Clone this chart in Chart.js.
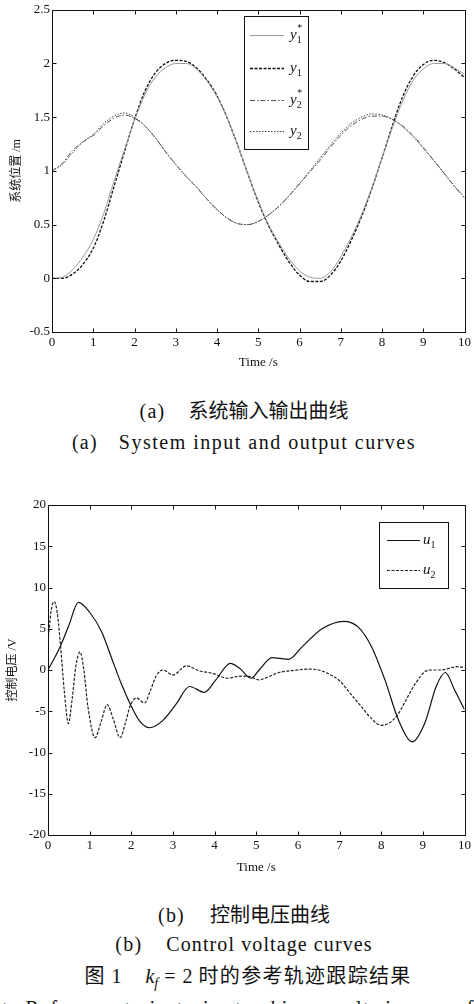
<!DOCTYPE html>
<html><head><meta charset="utf-8">
<script src="https://cdn.jsdelivr.net/npm/chart.js"></script>
<style>
html,body{margin:0;padding:0;background:#fff;width:474px;height:1004px;overflow:hidden;position:relative}
canvas{position:absolute;left:0}
.cap{position:absolute;left:0;width:488px;height:24px;line-height:24px;text-align:center;white-space:nowrap;color:#111;font-family:"Liberation Serif",serif;font-size:20px}
.zh{font-family:"Noto Sans CJK SC",sans-serif;font-size:20px}
</style></head><body>
<canvas id="ca" width="474" height="380" style="top:0"></canvas>
<canvas id="cb" width="474" height="390" style="top:490px"></canvas>

<div class="cap" style="top:398px"><span style="letter-spacing:1.2px">(a)</span><span class="zh" style="margin-left:23px">系统输入输出曲线</span></div>
<div class="cap" style="top:430px"><span style="letter-spacing:1.2px">(a)</span><span style="margin-left:21px;letter-spacing:1.5px">System input and output curves</span></div>
<div class="cap" style="top:902px"><span style="letter-spacing:1.2px">(b)</span><span class="zh" style="margin-left:25px">控制电压曲线</span></div>
<div class="cap" style="top:932px"><span style="letter-spacing:1.2px">(b)</span><span style="margin-left:24px;letter-spacing:1.1px">Control voltage curves</span></div>
<div class="cap" style="top:963px;width:496px"><span class="zh">图</span><span style="margin-left:7px">1</span><span style="margin-left:24px;font-style:italic">k</span><sub style="font-style:italic;font-size:14px;line-height:0">f</sub><span style="margin-left:6px">=</span><span style="margin-left:7px">2</span><span class="zh" style="margin-left:6px;letter-spacing:1.3px">时的参考轨迹跟踪结果</span></div>
<div class="cap" style="top:996px;left:2px;width:auto;text-align:left"><span>t</span><span style="margin-left:18px;letter-spacing:1.3px">Reference trajectories tracking results in case of <i>k</i></span></div>

<script>
// ---------- data: (a) system input / output ----------
const timeA = [0,0.25,0.5,0.75,1,1.25,1.5,1.75,2,2.25,2.5,2.75,3,3.25,3.5,3.75,4,4.25,4.5,4.75,5,5.25,5.5,5.75,6,6.25,6.5,6.75,7,7.25,7.5,7.75,8,8.25,8.5,8.75,9,9.25,9.5,9.75,10];
const y1Ref = [0,0.01,0.08,0.20,0.36,0.60,0.90,1.19,1.47,1.71,1.87,1.96,2.00,2.00,1.95,1.84,1.69,1.49,1.24,0.97,0.72,0.50,0.33,0.18,0.07,0.01,0.00,0.06,0.20,0.38,0.59,0.84,1.12,1.40,1.65,1.84,1.95,2.00,2.00,1.96,1.90];
const y1Out = [0,0.00,0.04,0.13,0.28,0.53,0.85,1.17,1.48,1.74,1.91,2.00,2.03,2.02,1.96,1.85,1.70,1.49,1.24,0.97,0.71,0.49,0.31,0.15,0.03,-0.03,-0.03,0.03,0.16,0.35,0.57,0.83,1.12,1.42,1.69,1.88,1.99,2.03,2.01,1.95,1.87];
const y2Ref = [1.00,1.07,1.19,1.27,1.33,1.42,1.49,1.52,1.49,1.42,1.31,1.18,1.06,0.95,0.85,0.74,0.64,0.56,0.51,0.50,0.53,0.59,0.67,0.77,0.88,0.99,1.10,1.22,1.33,1.42,1.48,1.51,1.51,1.48,1.42,1.33,1.22,1.10,0.98,0.86,0.75];
const y2Out = [1.00,1.06,1.17,1.27,1.34,1.44,1.51,1.54,1.50,1.42,1.31,1.18,1.06,0.95,0.85,0.74,0.64,0.56,0.51,0.50,0.53,0.59,0.67,0.77,0.88,1.00,1.12,1.24,1.35,1.44,1.50,1.53,1.52,1.48,1.41,1.32,1.21,1.10,0.98,0.86,0.75];
const legendA = [{base:'y',sub:'1',sup:'*'},{base:'y',sub:'1',sup:''},{base:'y',sub:'2',sup:'*'},{base:'y',sub:'2',sup:''}];
const xTicks = [0,1,2,3,4,5,6,7,8,9,10];
const yTicksA = [-0.5,0,0.5,1,1.5,2,2.5];

// ---------- data: (b) control voltage ----------
const u1Time = [0,0.29,0.5,0.73,1.0,1.29,1.53,1.77,2.0,2.2,2.44,2.76,3.08,3.4,3.75,4.03,4.38,4.6,4.88,5.07,5.38,5.58,5.78,6.1,6.58,7.1,7.45,7.77,8.09,8.41,8.75,9.05,9.32,9.54,9.76,10];
const u1Vals = [0,2.8,5.4,8.2,7.0,4.6,1.4,-1.8,-4.4,-6.2,-7.0,-6.1,-4.1,-2.0,-2.7,-1.2,0.8,0.2,-1.0,0.0,1.5,1.4,1.3,2.8,5.0,5.9,5.2,2.8,-1.2,-6.0,-8.7,-6.4,-2.0,-0.3,-2.4,-4.8];
const u2Time = [0,0.07,0.15,0.22,0.29,0.39,0.49,0.58,0.67,0.77,0.86,0.96,1.13,1.28,1.42,1.57,1.73,1.87,1.97,2.12,2.32,2.45,2.6,2.76,3.0,3.32,3.63,3.95,4.31,4.6,4.85,5.07,5.3,5.55,5.9,6.26,6.5,6.75,7.0,7.25,7.5,7.75,8.0,8.2,8.4,8.6,8.8,9.05,9.2,9.45,9.7,9.84,10];
const u2Vals = [3.5,7.0,8.3,7.0,3.6,-2.5,-6.5,-3.5,0.5,2.2,0.0,-4.5,-8.2,-6.2,-4.2,-6.0,-8.2,-6.2,-4.4,-3.4,-4.0,-2.6,-0.7,0.0,-0.6,0.5,-0.1,-0.4,-1.0,-0.75,-0.8,-1.2,-0.8,-0.3,-0.05,0.1,0.0,-0.5,-1.3,-2.8,-4.3,-5.8,-6.7,-6.4,-5.4,-3.6,-1.8,-0.2,0.0,0.0,0.3,0.4,0.3];
const legendB = [{base:'u',sub:'1',sup:''},{base:'u',sub:'2',sup:''}];
const yTicksB = [-20,-15,-10,-5,0,5,10,15,20];

const pts = (ts, vs) => ts.map((t, i) => ({x: t, y: vs[i]}));
const SERIF = '"Liberation Serif","Noto Sans CJK SC",serif';

// frame with inward ticks on all four sides
const framePlugin = {
  id: 'frame',
  afterDatasetsDraw(chart) {
    const {ctx, chartArea: a, scales: {x, y}} = chart;
    const L = Math.round(a.left) + 0.5, R = Math.round(a.right) + 0.5, T = Math.round(a.top) + 0.5, B = Math.round(a.bottom) + 0.5;
    ctx.save();
    ctx.strokeStyle = '#111'; ctx.lineWidth = 1; ctx.setLineDash([]);
    ctx.strokeRect(L, T, R - L, B - T);
    const k = 4;
    ctx.beginPath();
    x.ticks.forEach(t => { const p = Math.round(x.getPixelForValue(t.value)) + 0.5; ctx.moveTo(p, B); ctx.lineTo(p, B - k); ctx.moveTo(p, T); ctx.lineTo(p, T + k); });
    y.ticks.forEach(t => { const p = Math.round(y.getPixelForValue(t.value)) + 0.5; ctx.moveTo(L, p); ctx.lineTo(L + k, p); ctx.moveTo(R, p); ctx.lineTo(R - k, p); });
    ctx.stroke();
    ctx.restore();
  }
};

const legendPlugin = {
  id: 'boxLegend',
  afterDraw(chart, args, o) {
    if (!o || !o.items) return;
    const ctx = chart.ctx;
    ctx.save();
    ctx.fillStyle = '#fff'; ctx.fillRect(o.box[0], o.box[1], o.box[2], o.box[3]);
    ctx.strokeStyle = '#111'; ctx.lineWidth = 1; ctx.strokeRect(o.box[0] + 0.5, o.box[1] + 0.5, o.box[2], o.box[3]);
    o.items.forEach((it, i) => {
      const ds = chart.data.datasets[i];
      const yy = o.ys[i];
      ctx.strokeStyle = ds.borderColor; ctx.lineWidth = ds.borderWidth; ctx.setLineDash(ds.borderDash || []);
      ctx.beginPath(); ctx.moveTo(o.x0, yy + 0.5); ctx.lineTo(o.x1, yy + 0.5); ctx.stroke();
      ctx.setLineDash([]);
      ctx.fillStyle = '#111'; ctx.textBaseline = 'alphabetic'; ctx.textAlign = 'left';
      ctx.font = 'italic 15px "Liberation Serif"';
      ctx.fillText(it.base, o.tx, yy + 4);
      const w = ctx.measureText(it.base).width;
      ctx.font = '10px "Liberation Serif"';
      ctx.fillText(it.sub, o.tx + w, yy + 8);
      if (it.sup) ctx.fillText(it.sup, o.tx + w + 0.5, yy - 4);
    });
    ctx.restore();
  }
};

function makeScales(xt, yt, ymin, ymax, yw, xh, yTitle, ytPad, xtPad) {
  return {
    x: {
      type: 'linear', min: 0, max: 10,
      afterBuildTicks: s => { s.ticks = xt.map(v => ({value: v})); },
      afterFit: s => { s.height = xh; },
      grid: {display: false, drawTicks: false}, border: {display: false},
      ticks: {color: '#111', padding: 3, font: {family: SERIF, size: 13}, maxRotation: 0, autoSkip: false, callback: v => String(v)},
      title: {display: true, text: 'Time /s', color: '#111', font: {family: SERIF, size: 13}, padding: {top: 0, bottom: xtPad}}
    },
    y: {
      type: 'linear', min: ymin, max: ymax,
      afterBuildTicks: s => { s.ticks = yt.map(v => ({value: v})); },
      afterFit: s => { s.width = yw; },
      grid: {display: false, drawTicks: false}, border: {display: false},
      ticks: {color: '#111', padding: 2, font: {family: SERIF, size: 13}, autoSkip: false, callback: v => String(v)},
      title: {display: true, text: yTitle, color: '#111', font: {family: SERIF, size: 12}, padding: {top: ytPad, bottom: 0}}
    }
  };
}

const common = {responsive: false, animation: false, devicePixelRatio: 1, events: []};

new Chart(document.getElementById('ca'), {
  type: 'line',
  data: {datasets: [
    {label: 'y1*', data: pts(timeA, y1Ref), borderColor: '#9a9a9a', borderWidth: 1, borderDash: []},
    {label: 'y1', data: pts(timeA, y1Out), borderColor: '#111', borderWidth: 1.3, borderDash: [3, 1.5]},
    {label: 'y2*', data: pts(timeA, y2Ref), borderColor: '#555', borderWidth: 1, borderDash: [5, 2, 1.5, 2]},
    {label: 'y2', data: pts(timeA, y2Out), borderColor: '#444', borderWidth: 1, borderDash: [1.5, 1.5]}
  ]},
  options: Object.assign({}, common, {
    layout: {padding: {top: 4, right: 7, left: 0, bottom: 0}},
    elements: {point: {radius: 0}, line: {cubicInterpolationMode: 'monotone', fill: false}},
    scales: makeScales(xTicks, yTicksA, -0.5, 2.5, 52, 48, '系统位置 /m', 10, 10),
    plugins: {
      legend: {display: false}, tooltip: {enabled: false},
      boxLegend: {items: legendA, box: [244, 16, 64, 133], x0: 250, x1: 284, tx: 290, ys: [35, 68, 100, 131]}
    }
  }),
  plugins: [framePlugin, legendPlugin]
});

new Chart(document.getElementById('cb'), {
  type: 'line',
  data: {datasets: [
    {label: 'u1', data: pts(u1Time, u1Vals), borderColor: '#111', borderWidth: 1.2, borderDash: []},
    {label: 'u2', data: pts(u2Time, u2Vals), borderColor: '#222', borderWidth: 1.2, borderDash: [3, 1.5]}
  ]},
  options: Object.assign({}, common, {
    layout: {padding: {top: 15, right: 7, left: 0, bottom: 0}},
    elements: {point: {radius: 0}, line: {cubicInterpolationMode: 'monotone', fill: false}},
    scales: makeScales(xTicks, yTicksB, -20, 20, 48, 45, '控制电压 /V', 6, 5),
    plugins: {
      legend: {display: false}, tooltip: {enabled: false},
      boxLegend: {items: legendB, box: [379, 32, 69, 66], x0: 387, x1: 420, tx: 423, ys: [50, 80]}
    }
  }),
  plugins: [framePlugin, legendPlugin]
});
</script>
</body></html>
